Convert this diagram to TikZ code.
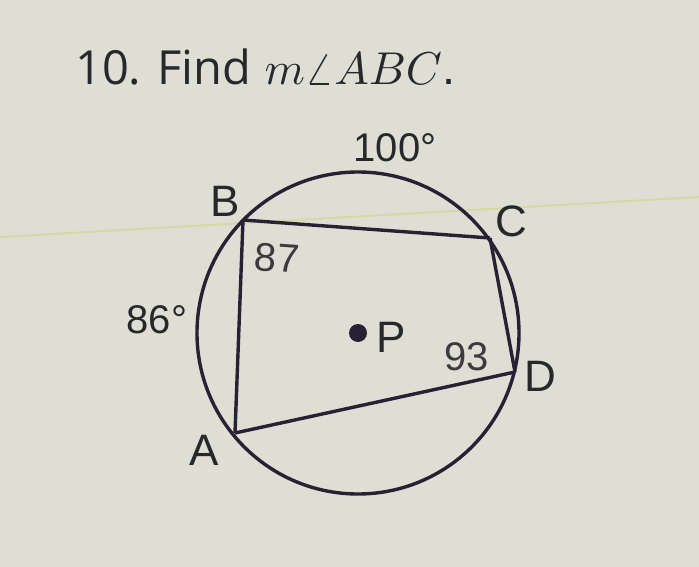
\documentclass[tikz,border=0pt]{standalone}
\usepackage{fontspec}
\setmainfont{Liberation Sans}
\newfontfamily\titlefont{Open Sans}
\definecolor{paper}{RGB}{222,222,213}
\definecolor{ink}{RGB}{38,34,52}
\definecolor{txt}{RGB}{40,40,42}
\definecolor{hand}{RGB}{60,58,62}
\definecolor{hilite}{RGB}{214,216,150}
\begin{document}
\begin{tikzpicture}[x=1pt,y=-1pt,
  edge/.style={draw=ink,line width=3.4pt,line join=round},
  lbl/.style={inner sep=0,text=txt,font=\fontsize{44}{44}\selectfont},
  deg/.style={inner sep=0,text=txt,font=\fontsize{40}{40}\selectfont},
  handnum/.style={inner sep=0,text=hand,font=\fontsize{40}{40}\selectfont}]
\fill[paper] (0,0) rectangle (699,567);
\useasboundingbox (0,0) rectangle (699,567);
% faint highlighter line
\draw[hilite,line width=2pt,opacity=0.8] (0,237) -- (699,197);
% title
\node[anchor=base west,inner sep=0,text=txt,font=\fontsize{47}{47}\selectfont] (title) at (75,85)
  {{\titlefont 10. Find} \scalebox{4.6}{\fontsize{10}{12}\selectfont$m\angle A B C$}.};
% circle
\node[circle,draw=ink,line width=3.4pt,minimum size=322pt,inner sep=0] (circ) at (358,333) {};
\coordinate (B) at (243,220);
\coordinate (C) at (490,238);
\coordinate (D) at (515,372);
\coordinate (A) at (235,433);
\draw[edge] (B) -- (C);
\draw[edge] (C) -- (D);
\draw[edge] (D) -- (A);
\draw[edge] (A) -- (B);
% center
\fill[ink] (358,333) circle (9pt);
\coordinate (Pdot) at (358,333);
% labels
\node[deg] (arc100) at (395,148) {100°};
\node[deg] (arc86) at (157,320) {86°};
\node[lbl] (lB) at (225,201) {B};
\node[lbl] (lC) at (511,221) {C};
\node[lbl] (lD) at (540,376) {D};
\node[lbl] (lA) at (204,450) {A};
\node[lbl] (lP) at (391,337) {P};
\node[handnum,rotate=-4] (n87) at (277,258) {87};
\node[handnum] (n93) at (467,357) {93};
\end{tikzpicture}
\end{document}
